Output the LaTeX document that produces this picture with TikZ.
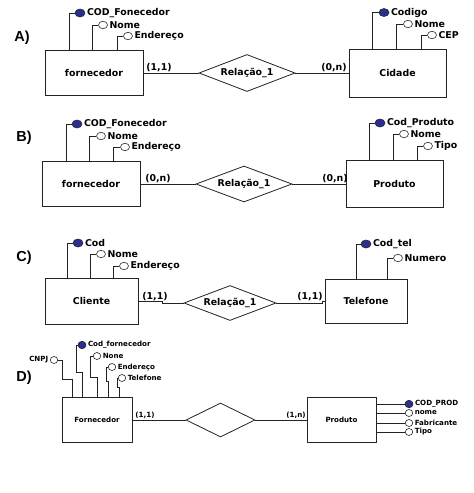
\documentclass[tikz,border=0pt]{standalone}
\usepackage{fontspec}
\setmainfont{DejaVu Sans}
\newfontfamily\letterfont{Liberation Sans}
\usetikzlibrary{shapes.geometric}
\definecolor{keyblue}{RGB}{45,45,145}
\definecolor{ln}{RGB}{35,35,35}
\begin{document}
\begin{tikzpicture}[x=1pt,y=-1pt,
  every node/.style={font=\bfseries\fontsize{9.4}{11}\selectfont, text=black},
  smallfont/.style={font=\bfseries\fontsize{7.1}{8}\selectfont},
  letter/.style={font=\letterfont\bfseries\fontsize{14.5}{16}\selectfont},
  ent/.style={draw=ln, line width=0.8pt, rectangle, inner sep=0pt},
  rel/.style={draw=ln, line width=0.8pt, diamond, inner sep=0pt},
  pk/.style={draw=ln, ellipse, fill=keyblue, minimum width=10pt, minimum height=8pt, inner sep=0pt, line width=0.6pt},
  att/.style={draw=ln, ellipse, fill=white, minimum width=9pt, minimum height=7.5pt, inner sep=0pt, line width=0.6pt},
  pkd/.style={draw=ln, ellipse, fill=keyblue, minimum width=8pt, minimum height=7.5pt, inner sep=0pt, line width=0.6pt},
  attd/.style={draw=ln, ellipse, fill=white, minimum width=7.5pt, minimum height=7pt, inner sep=0pt, line width=0.6pt},
  la/.style={label={[inner sep=1.5pt]right:#1}},
  ld/.style={label={[inner sep=1.5pt, smallfont]right:#1}},
  ldl/.style={label={[inner sep=1.5pt, smallfont]left:#1}},
  conn/.style={draw=ln, line width=0.8pt},
  card/.style={inner sep=0pt}
]
\fill[white] (0,0) rectangle (474,493);
\useasboundingbox (0,0) rectangle (474,493);

% ---------------- A ----------------
\node[letter] (LA) at (22,38) {A)};
\node[ent, minimum width=98pt, minimum height=45pt] (fA) at (94,73) {fornecedor};
\node[rel, minimum width=96pt, minimum height=37pt] (rA) at (247,73) {};
\node (rAt) at (247,73) {Relação\_1};
\node[ent, minimum width=97pt, minimum height=48pt] (cA) at (397.5,73) {Cidade};
\draw[conn] (fA) -- (rA) -- (cA);
\node[card] (kA1) at (159,68) {(1,1)};
\node[card] (kA2) at (334,68) {(0,n)};
\node[pk, la=COD\_Fonecedor] (aA1) at (80,13) {};
\node[att, la=Nome] (aA2) at (103,25) {};
\node[att, la=Endereço] (aA3) at (128,36) {};
\draw[conn] (aA1.west) -| ([xshift=25pt]fA.north west);
\draw[conn] (aA2.west) -| ([xshift=48pt]fA.north west);
\draw[conn] (aA3.west) -| ([xshift=73pt]fA.north west);
\node[pk, la=Codigo] (aA4) at (384,12.5) {};
\node[att, la=Nome] (aA5) at (408,24) {};
\node[att, la=CEP] (aA6) at (432,35) {};
\draw[conn] (aA4.west) -| ([xshift=24pt]cA.north west);
\draw[conn] (aA5.west) -| ([xshift=48pt]cA.north west);
\draw[conn] (aA6.west) -| ([xshift=73pt]cA.north west);

% ---------------- B ----------------
\node[letter] (LB) at (24,138) {B)};
\node[ent, minimum width=98pt, minimum height=45pt] (fB) at (91,184) {fornecedor};
\node[rel, minimum width=96pt, minimum height=36pt] (rB) at (244,184) {};
\node (rBt) at (244,184) {Relação\_1};
\node[ent, minimum width=97pt, minimum height=47pt] (pB) at (394.5,184) {Produto};
\draw[conn] (fB) -- (rB) -- (pB);
\node[card] (kB1) at (158,179) {(0,n)};
\node[card] (kB2) at (335,179) {(0,n)};
\node[pk, la=COD\_Fonecedor] (aB1) at (77,124) {};
\node[att, la=Nome] (aB2) at (101,136) {};
\node[att, la=Endereço] (aB3) at (125,147) {};
\draw[conn] (aB1.west) -| ([xshift=25pt]fB.north west);
\draw[conn] (aB2.west) -| ([xshift=48pt]fB.north west);
\draw[conn] (aB3.west) -| ([xshift=72pt]fB.north west);
\node[pk, la=Cod\_Produto] (aB4) at (380,123) {};
\node[att, la=Nome] (aB5) at (404,134) {};
\node[att, la=Tipo] (aB6) at (428,146) {};
\draw[conn] (aB4.west) -| ([xshift=24pt]pB.north west);
\draw[conn] (aB5.west) -| ([xshift=48pt]pB.north west);
\draw[conn] (aB6.west) -| ([xshift=72pt]pB.north west);

% ---------------- C ----------------
\node[letter] (LC) at (24,258) {C)};
\node[ent, minimum width=93pt, minimum height=46pt] (clC) at (91.5,301) {Cliente};
\node[rel, minimum width=92pt, minimum height=35pt] (rC) at (230,303) {};
\node (rCt) at (230,303) {Relação\_1};
\node[ent, minimum width=82pt, minimum height=44pt] (tC) at (366,301) {Telefone};
\draw[conn] (clC.east) -- ++(24,0) -- ++(0,2) -- (rC.west);
\draw[conn] (rC.east) -- ++(46,0) -- ++(0,-2) -- (tC.west);
\node[card] (kC1) at (155,297) {(1,1)};
\node[card] (kC2) at (310,297) {(1,1)};
\node[pk, la=Cod] (aC1) at (78,243) {};
\node[att, la=Nome] (aC2) at (101,254) {};
\node[att, la=Endereço] (aC3) at (124,266) {};
\draw[conn] (aC1.west) -| ([xshift=23pt]clC.north west);
\draw[conn] (aC2.west) -| ([xshift=46pt]clC.north west);
\draw[conn] (aC3.west) -| ([xshift=69pt]clC.north west);
\node[pk, la=Cod\_tel] (aC4) at (366,244) {};
\node[att, la=Numero] (aC5) at (398,258) {};
\draw[conn] (aC4.west) -| ([xshift=32pt]tC.north west);
\draw[conn] (aC5.west) -| ([xshift=63pt]tC.north west);

% ---------------- D ----------------
\node[letter] (LD) at (24,378) {D)};
\node[ent, smallfont, minimum width=70pt, minimum height=45pt] (fD) at (97,420) {Fornecedor};
\node[rel, minimum width=69pt, minimum height=34pt] (rD) at (220.5,420) {};
\node[ent, smallfont, minimum width=69pt, minimum height=45pt] (pD) at (341.5,420) {Produto};
\draw[conn] (fD) -- (rD) -- (pD);
\node[card, smallfont] (kD1) at (145,415) {(1,1)};
\node[card, smallfont] (kD2) at (296,415) {(1,n)};
\node[attd, ldl=CNPJ] (dA0) at (54,360) {};
\node[pkd, ld=Cod\_fornecedor] (dA1) at (82,345) {};
\node[attd, ld=None] (dA2) at (97,356) {};
\node[attd, ld=Endereço] (dA3) at (112,367) {};
\node[attd, ld=Telefone] (dA4) at (122,378) {};
\draw[conn] (dA0.east) -| (62,379) -| ([xshift=11pt]fD.north west);
\draw[conn] (dA1.west) -| (76,372) -| ([xshift=21pt]fD.north west);
\draw[conn] (dA2.west) -| (90,377) -| ([xshift=36pt]fD.north west);
\draw[conn] (dA3.west) -| (106,381) -| ([xshift=47pt]fD.north west);
\draw[conn] (dA4.west) -| (117,387) -| ([xshift=58pt]fD.north west);
\node[pkd, ld=COD\_PROD] (dB1) at (409,404) {};
\node[attd, ld=nome] (dB2) at (409,413) {};
\node[attd, ld=Fabricante] (dB3) at (409,423) {};
\node[attd, ld=Tipo] (dB4) at (409,432) {};
\draw[conn] (dB1.west) -- (dB1.west -| pD.east);
\draw[conn] (dB2.west) -- (dB2.west -| pD.east);
\draw[conn] (dB3.west) -- (dB3.west -| pD.east);
\draw[conn] (dB4.west) -- (dB4.west -| pD.east);
\end{tikzpicture}
\end{document}
